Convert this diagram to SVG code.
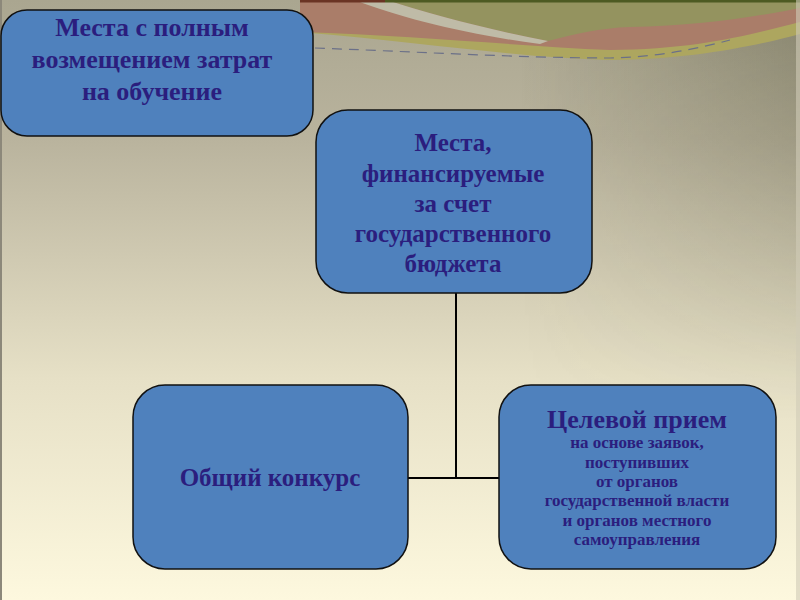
<svg xmlns="http://www.w3.org/2000/svg" width="800" height="600" viewBox="0 0 800 600">
<defs>
<linearGradient id="bg" x1="0" y1="0" x2="0" y2="1">
<stop offset="0" stop-color="#aaa690"/>
<stop offset="0.23" stop-color="#b9b39d"/>
<stop offset="0.63" stop-color="#e6e0c6"/>
<stop offset="1" stop-color="#fdf8de"/>
</linearGradient>
<linearGradient id="shade" x1="0" y1="0" x2="1" y2="0">
<stop offset="0" stop-color="#3a3a20" stop-opacity="0"/>
<stop offset="0.65" stop-color="#3a3a20" stop-opacity="0"/>
<stop offset="1" stop-color="#3a3a20" stop-opacity="0.3"/>
</linearGradient>
<linearGradient id="fadeV" x1="0" y1="0" x2="0" y2="1">
<stop offset="0" stop-color="#fff"/>
<stop offset="0.7" stop-color="#000"/>
</linearGradient>
<mask id="m"><rect width="800" height="600" fill="url(#fadeV)"/></mask>
<style>
.box{fill:#4f81bd;stroke:#111;stroke-width:1.5}
.t{font-family:"Liberation Serif","Times New Roman",serif;font-weight:bold;fill:#2b1e7e;text-anchor:middle}
.big{font-size:26px}
.mid{font-size:25px}
.sm{font-size:17px}
.conn{stroke:#000;stroke-width:2;fill:none}
</style>
</defs>
<rect width="800" height="600" fill="url(#bg)"/>
<rect width="800" height="600" fill="url(#shade)" mask="url(#m)"/>
<g id="decor">
<path d="M300 0 H800 V34 C760 45 690 60 610 60 C520 58 420 42 310 33 L300 33 Z" fill="#ada65f"/>
<path d="M300 0 H800 V22 C760 32 700 50 610 50 C520 46 420 36 300 32 Z" fill="#aa7d69"/>
<path d="M387 0 H800 V8 C760 16 700 26 630 27 C600 28 575 34 548 41 C490 30 430 14 387 0 Z" fill="#94935f"/>
<path d="M355 0 L387 0 C430 14 490 30 548 41 L540 44 C470 35 400 18 355 0 Z" fill="#bfbba7"/>
<path d="M385 0 H800 V2.5 H385 Z" fill="#4d5a22"/>
<path d="M300 0 H385 V2.5 H300 Z" fill="#6a3424"/>
<path d="M315 48 C400 51 520 58 610 58 C660 57 700 48 730 40" stroke="#6b7088" stroke-width="1.2" stroke-dasharray="10 7" fill="none"/>
</g>
<rect x="0" y="0" width="2" height="600" fill="#8c887a"/>
<rect x="796" y="0" width="4" height="600" fill="#d0ccb8" opacity="0.6"/>
<g id="connectors">
<path class="conn" d="M456 293 V478 M408 478 H500"/>
</g>
<g id="node-full">
<rect class="box" x="1" y="10" width="312" height="126" rx="26"/>
<text class="t big" x="152" y="36">Места с полным</text>
<text class="t big" x="152" y="68">возмещением затрат</text>
<text class="t big" x="152" y="100">на обучение</text>
</g>
<g id="node-budget">
<rect class="box" x="316" y="110" width="276" height="183" rx="32"/>
<text class="t mid" x="453" y="151">Места,</text>
<text class="t mid" x="453" y="182">финансируемые</text>
<text class="t mid" x="453" y="212">за счет</text>
<text class="t mid" x="453" y="242">государственного</text>
<text class="t mid" x="453" y="272">бюджета</text>
</g>
<g id="node-general">
<rect class="box" x="133" y="385" width="275" height="184" rx="32"/>
<text class="t mid" x="270" y="486">Общий конкурс</text>
</g>
<g id="node-target">
<rect class="box" x="499" y="385" width="277" height="184" rx="32"/>
<text class="t big" x="637" y="428">Целевой прием</text>
<text class="t sm" x="637" y="448">на основе заявок,</text>
<text class="t sm" x="637" y="468">поступивших</text>
<text class="t sm" x="637" y="487">от органов</text>
<text class="t sm" x="637" y="506">государственной власти</text>
<text class="t sm" x="637" y="526">и органов местного</text>
<text class="t sm" x="637" y="545">самоуправления</text>
</g>
</svg>
